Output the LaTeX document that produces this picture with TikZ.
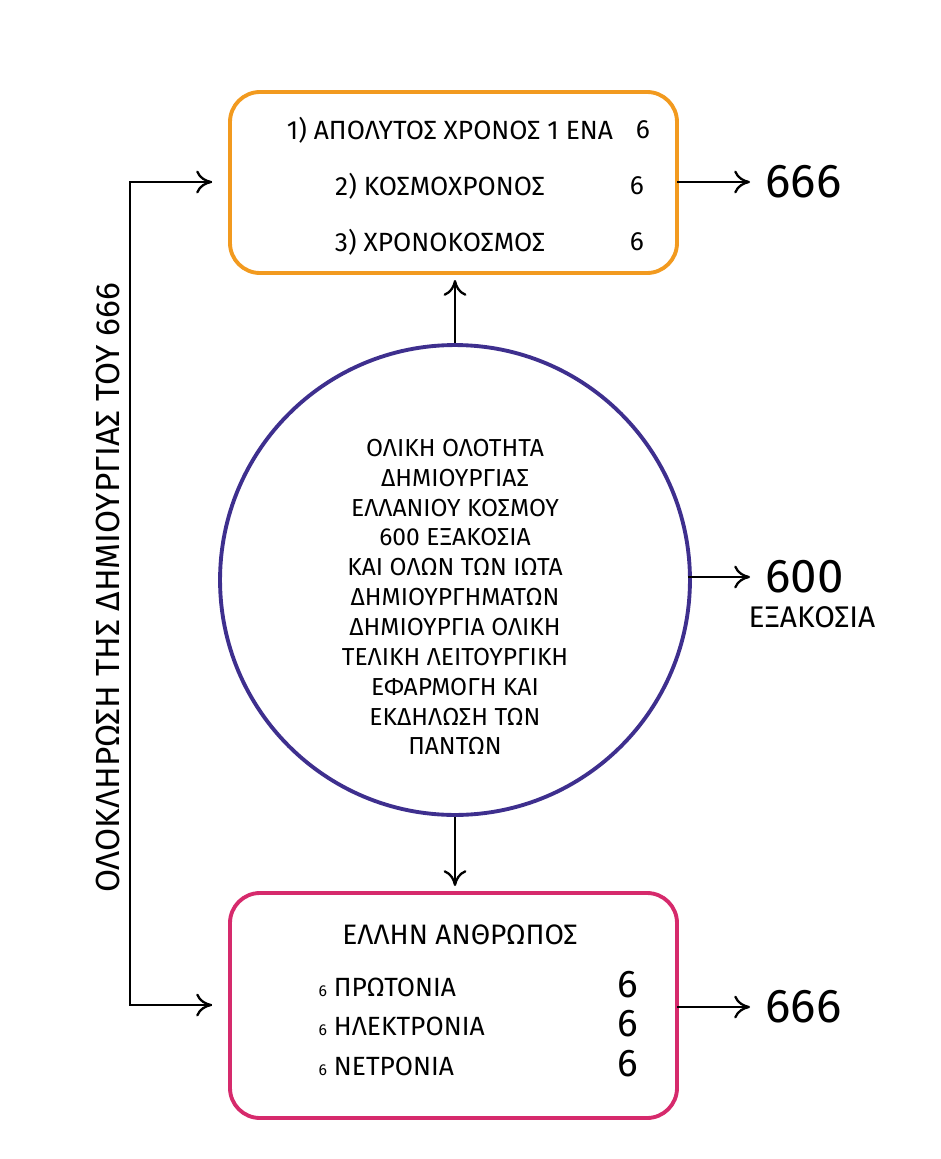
\documentclass[tikz,border=0pt]{standalone}
\usepackage{fontspec}
\setmainfont{Fira Sans}
\usetikzlibrary{positioning, arrows.meta}
\definecolor{boxorange}{HTML}{F29A1F}
\definecolor{circpurple}{HTML}{3E2F8E}
\definecolor{boxpink}{HTML}{D62A6C}
\begin{document}
\begin{tikzpicture}[x=0.02cm, y=-0.02cm, semithick,
    box/.style={draw, line width=2.2pt, rounded corners=0.6cm},
    txt/.style={font=\fontsize{15}{18}\selectfont, inner sep=0pt},
    big/.style={font=\fontsize{27}{30}\selectfont, inner sep=0pt},
    arr/.style={-{To[length=9pt, width=13pt]}, line width=1.3pt}]
    \useasboundingbox (0,0) rectangle (940,1159);
    % boxes and circle
    \draw[box, boxorange] (230,92) rectangle (677,273);
    \draw[box, boxpink] (230,893) rectangle (677,1118);
    \node[draw=circpurple, line width=2.2pt, circle, minimum size=9.4cm] (circ) at (455,580) {};
    \coordinate (topS) at (455,280);
    \coordinate (botN) at (455,886);
    % top box text
    \node[txt] (t1) at (450,130) {1) ΑΠΟΛΥΤΟΣ ΧΡΟΝΟΣ 1 ΕΝΑ};
    \node[txt] (t2) at (440,186) {2) ΚΟΣΜΟΧΡΟΝΟΣ};
    \node[txt] (t3) at (440,242) {3) ΧΡΟΝΟΚΟΣΜΟΣ};
    \node[txt] at (643,130) {6};
    \node[txt] at (637,186) {6};
    \node[txt] at (637,242) {6};
    % circle text
    \node[txt, align=center, font=\fontsize{14}{17}\selectfont] (ctext) at (455,597)
        {ΟΛΙΚΗ ΟΛΟΤΗΤΑ\\ΔΗΜΙΟΥΡΓΙΑΣ\\ΕΛΛΑΝΙΟΥ ΚΟΣΜΟΥ\\600 ΕΞΑΚΟΣΙΑ\\ΚΑΙ ΟΛΩΝ ΤΩΝ ΙΩΤΑ\\ΔΗΜΙΟΥΡΓΗΜΑΤΩΝ\\ΔΗΜΙΟΥΡΓΙΑ ΟΛΙΚΗ\\ΤΕΛΙΚΗ ΛΕΙΤΟΥΡΓΙΚΗ\\ΕΦΑΡΜΟΓΗ ΚΑΙ\\ΕΚΔΗΛΩΣΗ ΤΩΝ\\ΠΑΝΤΩΝ};
    % bottom box text
    \node[txt, font=\fontsize{16}{18}\selectfont] (bt) at (460,935) {ΕΛΛΗΝ ΑΝΘΡΩΠΟΣ};
    \node[txt, anchor=west] (b1) at (318,987) {{\small 6} ΠΡΩΤΟΝΙΑ};
    \node[txt, anchor=west] (b2) at (318,1026) {{\small 6} ΗΛΕΚΤΡΟΝΙΑ};
    \node[txt, anchor=west] (b3) at (318,1066) {{\small 6} ΝΕΤΡΟΝΙΑ};
    \foreach \y in {985,1024,1064}
        \node[txt, font=\fontsize{22}{24}\selectfont] at (628,\y) {6};
    % right outputs
    \coordinate (o1) at (677,182);
    \coordinate (o2) at (688,577);
    \coordinate (o3) at (677,1007);
    \node[big, anchor=west] (n1) at (765,182) {666};
    \node[big, anchor=west] (n2) at (765,577) {600};
    \node[txt, font=\fontsize{17}{20}\selectfont] (n2b) at (812,617) {ΕΞΑΚΟΣΙΑ};
    \node[big, anchor=west] (n3) at (765,1007) {666};
    \draw[arr] (o1) -- ([xshift=-0.3cm]n1.west);
    \draw[arr] (o2) -- ([xshift=-0.3cm]n2.west);
    \draw[arr] (o3) -- ([xshift=-0.3cm]n3.west);
    % vertical links
    \draw[arr] (circ.north) -- (topS);
    \draw[arr] (circ.south) -- (botN);
    % left bracket
    \coordinate (l1) at (130,182);
    \coordinate (l2) at (130,1005);
    \coordinate (e1) at (212,182);
    \coordinate (e2) at (212,1005);
    \draw[line width=1.3pt] (e1) -- (l1) -- (l2) -- (e2);
    \draw[arr] (l1) -- (e1);
    \draw[arr] (l2) -- (e2);
    \node[txt, rotate=90, font=\fontsize{19}{22}\selectfont] (side) at (108,588)
        {ΟΛΟΚΛΗΡΩΣΗ ΤΗΣ ΔΗΜΙΟΥΡΓΙΑΣ ΤΟΥ 666};
\end{tikzpicture}
\end{document}
